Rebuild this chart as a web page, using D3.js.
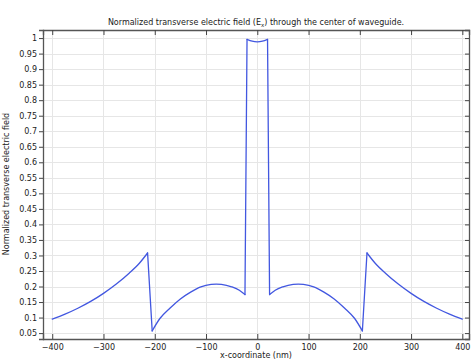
<!DOCTYPE html>
<html>
<head>
<meta charset="utf-8">
<script src="https://cdn.jsdelivr.net/npm/d3@7"></script>
<style>
  body { margin: 0; background: #fff; }
  svg { display: block; font-family: "DejaVu Sans", sans-serif; }
</style>
</head>
<body>
<svg width="474" height="362"></svg>
<script>
// x-координаты (нм) и нормированное поле
const xCoord = [-400, -375, -350, -325, -300, -275, -250, -230, -214,
  -205, -190, -170, -150, -130, -110, -90, -80, -70, -50, -35, -24,
  -20, -10, 0, 10, 20,
  24, 35, 50, 70, 80, 90, 110, 130, 150, 170, 190, 205,
  214, 230, 250, 275, 300, 325, 350, 375, 400];
const fieldE = [0.095, 0.111, 0.130, 0.152, 0.178, 0.208, 0.243, 0.275, 0.308,
  0.057, 0.097, 0.131, 0.160, 0.182, 0.199, 0.207, 0.208, 0.207, 0.199, 0.188, 0.174,
  0.996, 0.990, 0.988, 0.990, 0.996,
  0.174, 0.188, 0.199, 0.207, 0.208, 0.207, 0.199, 0.182, 0.160, 0.131, 0.097, 0.057,
  0.308, 0.275, 0.243, 0.208, 0.178, 0.152, 0.130, 0.111, 0.095];
// границы гладких участков (разрывы на краях слоёв)
const pieceStarts = [0, 9, 21, 26, 38];
const xTicks = [-400, -300, -200, -100, 0, 100, 200, 300, 400];
const yTicks = [0.05, 0.1, 0.15, 0.2, 0.25, 0.3, 0.35, 0.4, 0.45, 0.5,
  0.55, 0.6, 0.65, 0.7, 0.75, 0.8, 0.85, 0.9, 0.95, 1];

const svg = d3.select("svg");
const area = { left: 43, right: 469, top: 30, bottom: 339 };

const scX = d3.scaleLinear().domain([-418, 413]).range([area.left, area.right]);
const scY = d3.scaleLinear().domain([0.031, 1.026]).range([area.bottom, area.top]);

// сетка
const grid = svg.append("g").attr("stroke", "#e6e6e6").attr("stroke-width", 1);
grid.selectAll(".gx").data(xTicks).enter().append("line")
  .attr("x1", d => Math.round(scX(d)) + 0.5).attr("x2", d => Math.round(scX(d)) + 0.5)
  .attr("y1", area.top).attr("y2", area.bottom);
grid.selectAll(".gy").data(yTicks).enter().append("line")
  .attr("y1", d => Math.round(scY(d)) + 0.5).attr("y2", d => Math.round(scY(d)) + 0.5)
  .attr("x1", area.left).attr("x2", area.right);

// линия поля: гладкие участки + прямые скачки между ними
svg.append("clipPath").attr("id", "clip").append("rect")
  .attr("x", area.left).attr("y", area.top)
  .attr("width", area.right - area.left).attr("height", area.bottom - area.top);

const pts = d3.zip(xCoord, fieldE);
const pieces = [];
pieceStarts.forEach((s, i) => {
  const e = i + 1 < pieceStarts.length ? pieceStarts[i + 1] : pts.length;
  pieces.push({ data: pts.slice(s, e), curve: d3.curveMonotoneX });
  if (e < pts.length) pieces.push({ data: [pts[e - 1], pts[e]], curve: d3.curveLinear });
});

const lineG = svg.append("g").attr("clip-path", "url(#clip)");
pieces.forEach(p => {
  lineG.append("path")
    .datum(p.data)
    .attr("fill", "none")
    .attr("stroke", "#4257e0")
    .attr("stroke-width", 1.3)
    .attr("stroke-linejoin", "round")
    .attr("stroke-linecap", "round")
    .attr("d", d3.line().curve(p.curve).x(d => scX(d[0])).y(d => scY(d[1])));
});

// оси
const fmt = d3.format("~g");
const axB = svg.append("g").attr("transform", `translate(0,${area.bottom})`)
  .call(d3.axisBottom(scX).tickValues(xTicks).tickSize(-5).tickPadding(5).tickFormat(d3.format("d")));
const axT = svg.append("g").attr("transform", `translate(0,${area.top})`)
  .call(d3.axisTop(scX).tickValues(xTicks).tickSize(-5).tickFormat(""));
const axL = svg.append("g").attr("transform", `translate(${area.left},0)`)
  .call(d3.axisLeft(scY).tickValues(yTicks).tickSize(4).tickPadding(2).tickFormat(fmt));
const axR = svg.append("g").attr("transform", `translate(${area.right},0)`)
  .call(d3.axisRight(scY).tickValues(yTicks).tickSize(-4).tickFormat(""));

[axB, axT, axL, axR].forEach(a => {
  a.select(".domain").attr("stroke", "#555").attr("stroke-width", 1.3);
  a.selectAll(".tick line").attr("stroke", "#444");
  a.selectAll("text").attr("fill", "#222").style("font-size", "8px")
    .style("font-family", "DejaVu Sans, sans-serif");
});

// подписи
svg.append("text").attr("x", 256).attr("y", 25).attr("text-anchor", "middle")
  .style("font-size", "8px").attr("fill", "#222")
  .text("Normalized transverse electric field (E")
  .append("tspan").attr("dy", 2).style("font-size", "5.5px").text("x")
  .select(function() { return this.parentNode; })
  .append("tspan").attr("dy", -2).text(") through the center of waveguide.");

svg.append("text").attr("x", 256).attr("y", 358).attr("text-anchor", "middle")
  .style("font-size", "8px").attr("fill", "#222").text("x-coordinate (nm)");

svg.append("text").attr("transform", "translate(9,184) rotate(-90)")
  .attr("text-anchor", "middle").style("font-size", "8px").attr("fill", "#222")
  .text("Normalized transverse electric field");
</script>
</body>
</html>
